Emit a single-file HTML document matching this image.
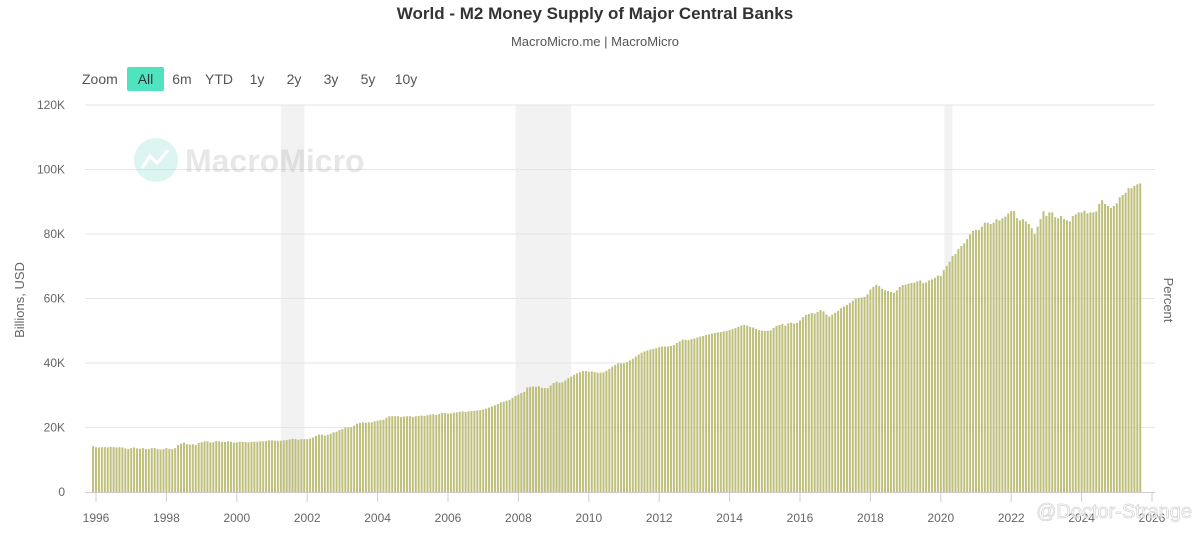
<!DOCTYPE html>
<html><head><meta charset="utf-8"><style>
body{margin:0;background:#fff;font-family:"Liberation Sans",sans-serif;}
#wrap{position:relative;width:1200px;height:536px;overflow:hidden;}
</style></head><body>
<div id="wrap">
<svg id="chart" width="1200" height="536" xmlns="http://www.w3.org/2000/svg">
<text x="595" y="19" text-anchor="middle" font-size="17" font-weight="bold" fill="#333">World - M2 Money Supply of Major Central Banks</text>
<text x="595" y="46" text-anchor="middle" font-size="13" fill="#555">MacroMicro.me | MacroMicro</text>
<g font-size="14" fill="#555">
<text x="82" y="84">Zoom</text>
<rect x="127" y="67" width="37" height="24" rx="2" fill="#4fe3c0"/>
<text x="145.5" y="84" text-anchor="middle" fill="#333">All</text>
<text x="182" y="84" text-anchor="middle">6m</text>
<text x="219" y="84" text-anchor="middle">YTD</text>
<text x="257" y="84" text-anchor="middle">1y</text>
<text x="294" y="84" text-anchor="middle">2y</text>
<text x="331" y="84" text-anchor="middle">3y</text>
<text x="368" y="84" text-anchor="middle">5y</text>
<text x="406" y="84" text-anchor="middle">10y</text>
</g>
<g id="bands"></g>
<g id="grid"></g>
<g opacity="0.35">
<circle cx="156" cy="160" r="22" fill="#9fe3d6"/>
<path d="M142 168 L150 156 L157 163 L168 150" stroke="#fff" stroke-width="3" fill="none"/>
<text x="185" y="172" font-size="32" font-weight="bold" fill="#bbb">MacroMicro</text>
</g>
<g id="bars"></g>
<g id="axes"></g>
<text transform="translate(24,300) rotate(-90)" text-anchor="middle" font-size="13" fill="#666">Billions, USD</text>
<text transform="translate(1164,300) rotate(90)" text-anchor="middle" font-size="13" fill="#666">Percent</text>
<text x="1192" y="518" text-anchor="end" font-size="20" fill="#fff" stroke="#ccc" stroke-width="0.8" opacity="0.8">@Doctor-Strange</text>
</svg>
</div>
<script>
const startYear = 1995 + 11/12;
const values = [
14.2,
13.9,13.8,13.9,13.9,13.8,14.0,13.9,13.8,13.9,13.8,13.5,13.3,
13.6,13.8,13.5,13.4,13.6,13.3,13.3,13.6,13.6,13.3,13.2,13.3,
13.6,13.4,13.3,13.6,14.6,15.0,15.3,14.8,14.7,14.8,14.6,15.2,
15.4,15.7,15.7,15.4,15.4,15.8,15.7,15.5,15.5,15.7,15.6,15.3,
15.4,15.6,15.5,15.5,15.4,15.5,15.6,15.6,15.7,15.7,15.8,16.0,
16.0,15.9,15.9,15.9,16.0,16.1,16.3,16.5,16.4,16.2,16.4,16.4,
16.4,16.6,16.9,17.4,17.8,17.8,17.5,17.7,18.1,18.5,18.7,19.2,
19.5,20.0,20.0,20.1,20.6,21.2,21.4,21.6,21.5,21.6,21.6,21.9,
22.1,22.3,22.4,23.0,23.5,23.5,23.5,23.5,23.3,23.4,23.5,23.5,
23.3,23.5,23.6,23.7,23.6,23.8,24.0,24.1,23.9,24.2,24.5,24.5,
24.3,24.4,24.6,24.7,24.9,25.0,24.8,25.0,25.1,25.2,25.3,25.4,
25.6,25.9,26.2,26.5,26.9,27.3,27.8,28.0,28.3,28.6,29.2,29.8,
30.2,30.7,31.0,32.4,32.6,32.7,32.6,32.8,32.3,32.2,32.2,33.0,
33.8,34.2,33.9,34.0,34.6,35.3,35.8,36.3,36.8,37.1,37.5,37.5,
37.3,37.4,37.2,37.0,37.0,37.1,37.6,38.2,38.9,39.4,39.9,39.9,
39.9,40.3,40.8,41.3,42.0,42.6,43.2,43.6,43.9,44.2,44.4,44.6,
44.9,45.1,45.1,45.1,45.3,45.6,46.2,46.7,47.3,47.2,47.1,47.4,
47.6,47.9,48.2,48.4,48.7,48.9,49.1,49.3,49.5,49.6,49.8,49.9,
50.2,50.5,50.8,51.2,51.6,51.8,51.6,51.2,51.0,50.6,50.2,50.0,
49.9,50.0,50.1,50.9,51.5,51.8,52.1,51.6,52.3,52.5,52.2,52.4,
53.2,54.2,54.9,55.2,55.5,55.3,55.8,56.4,56.0,55.0,54.4,55.0,
55.6,56.2,57.0,57.5,58.0,58.6,59.3,60.0,60.2,60.3,60.5,61.3,
62.8,63.6,64.2,63.8,63.0,62.6,62.3,62.0,61.8,62.5,63.6,64.2,
64.3,64.6,64.8,64.9,65.3,65.6,64.8,65.0,65.6,65.9,66.4,67.1,
67.0,68.8,70.1,71.4,73.2,73.8,75.3,76.3,77.1,78.4,79.9,81.0,
81.2,81.2,82.3,83.5,83.5,83.1,83.5,84.6,84.2,84.9,85.4,86.4,
87.1,87.1,84.9,84.2,84.6,83.9,83.1,81.8,80.0,82.3,84.6,87.1,
85.6,86.7,86.7,85.2,84.9,85.6,84.6,84.2,83.9,85.6,86.1,86.7,
86.7,87.2,86.4,86.7,86.7,87.0,89.3,90.5,89.3,88.7,88.1,88.7,
89.5,91.4,92.1,92.8,94.2,94.2,94.9,95.4,95.7
];
const yTicks = [0,20,40,60,80,100,120];
const yTickLabels = ["0","20K","40K","60K","80K","100K","120K"];
const xTicks = [1996,1998,2000,2002,2004,2006,2008,2010,2012,2014,2016,2018,2020,2022,2024,2026];
const recessionStarts = [2001.25, 2007.92, 2020.1];
const recessionEnds = [2001.92, 2009.5, 2020.33];

const NS="http://www.w3.org/2000/svg";
const xScale = yr => 96 + (yr - 1996) * 35.2;
const yScale = v => 492 - v * (387/120);
function mk(tag, attrs, parent){const e=document.createElementNS(NS,tag);for(const k in attrs)e.setAttribute(k,attrs[k]);parent.appendChild(e);return e;}
const gB=document.getElementById('bands'), gG=document.getElementById('grid'), gBar=document.getElementById('bars'), gA=document.getElementById('axes');
recessionStarts.forEach((s,i)=>{
  const r=mk('rect',{x:xScale(s),y:105,width:xScale(recessionEnds[i])-xScale(s),height:387,fill:'#f2f2f2'},gB);
  
  
});
yTicks.forEach((t,i)=>{
  const y=yScale(t);
  if(t>0){const l=mk('line',{x1:85,x2:1155,y1:y,y2:y,stroke:'#e6e6e6','stroke-width':1},gG);
  
  }
  const tx=mk('text',{x:65,y:y+4,'text-anchor':'end','font-size':12,fill:'#666'},gA);
  tx.textContent=yTickLabels[i];
  
  
});
values.forEach((v,i)=>{
  const x=xScale(startYear+i/12);
  const r=mk('rect',{x:x-1,y:yScale(v),width:2,height:yScale(0)-yScale(v),fill:'#bfbf7c'},gBar);
  
  
});
const ax=mk('line',{x1:85,x2:1155,y1:492.5,y2:492.5,stroke:'#ccc'},gA);


xTicks.forEach(t=>{
  const x=xScale(t);
  const tk=mk('line',{x1:x,x2:x,y1:492,y2:502,stroke:'#ccc'},gA);
  
  
  const tx=mk('text',{x:x,y:522,'text-anchor':'middle','font-size':12,fill:'#666'},gA);
  tx.textContent=String(t);
  
  
});
</script>
</body></html>
